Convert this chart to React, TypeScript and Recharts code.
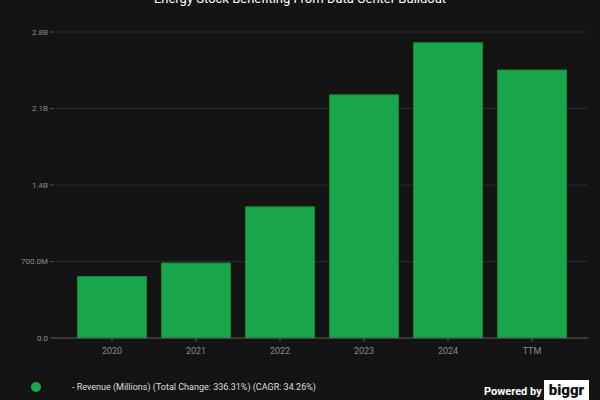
import { BarChart, Bar, XAxis, YAxis, CartesianGrid } from 'recharts';

// revenue in millions
const years = ['2020', '2021', '2022', '2023', '2024', 'TTM'];
const revenue = [562, 686, 1200, 2225, 2702, 2452];
const yTicks = [0, 700, 1400, 2100, 2800];

const data = years.map((year, i) => ({ year, revenue: revenue[i] }));

function formatMoney(v: number) {
  if (v === 0) return '0.0';
  if (v >= 1000) return `${(v / 1000).toFixed(1)}B`;
  return `${v.toFixed(1)}M`;
}

const BG = '#141414';
const GREEN = '#1aa64b';

export default function App() {
  return (
    <div
      style={{
        position: 'fixed',
        left: 0,
        top: 0,
        width: 600,
        height: 400,
        background: BG,
        overflow: 'hidden',
        fontFamily: 'Roboto, "Helvetica Neue", Arial, sans-serif',
      }}
    >
      <div
        style={{
          position: 'absolute',
          top: -9,
          left: 0,
          width: 600,
          textAlign: 'center',
          color: '#ffffff',
          fontSize: 13,
          lineHeight: '16px',
        }}
      >
        Energy Stock Benefiting From Data Center Buildout
      </div>
      <BarChart
        width={600}
        height={400}
        data={data}
        margin={{ top: 32, right: 12, bottom: 32, left: 0 }}
        barCategoryGap="9%"
      >
        <CartesianGrid vertical={false} stroke="#2a2a2a" strokeWidth={1} />
        <XAxis
          dataKey="year"
          height={30}
          padding={{ left: 17, right: 14 }}
          axisLine={{ stroke: '#555555' }}
          tickLine={{ stroke: '#555555' }}
          tickSize={4}
          tickMargin={6}
          tick={{ fill: '#8a8a8a', fontSize: 9 }}
        />
        <YAxis
          width={53}
          domain={[0, 2800]}
          ticks={yTicks}
          tickFormatter={formatMoney}
          axisLine={false}
          tickLine={{ stroke: '#555555' }}
          tickSize={3}
          tickMargin={2}
          tick={{ fill: '#8a8a8a', fontSize: 8 }}
        />
        <Bar
          dataKey="revenue"
          fill={GREEN}
          stroke="#138a3b"
          strokeWidth={1}
          isAnimationActive={false}
        />
      </BarChart>
      <div
        style={{
          position: 'absolute',
          left: 31,
          top: 382,
          width: 10,
          height: 10,
          borderRadius: 5,
          background: GREEN,
        }}
      />
      <div
        style={{
          position: 'absolute',
          left: 72,
          top: 380,
          color: '#dddddd',
          fontSize: 9,
          lineHeight: '14px',
          whiteSpace: 'nowrap',
        }}
      >
        - Revenue (Millions) (Total Change: 336.31%) (CAGR: 34.26%)
      </div>
      <div
        style={{
          position: 'absolute',
          left: 484,
          top: 385,
          color: '#ffffff',
          fontSize: 11,
          fontWeight: 700,
          lineHeight: '14px',
          whiteSpace: 'nowrap',
        }}
      >
        Powered by
      </div>
      <div
        style={{
          position: 'absolute',
          left: 544,
          top: 380,
          width: 45,
          height: 24,
          background: '#ffffff',
          color: '#111111',
          fontSize: 15,
          fontWeight: 900,
          textAlign: 'center',
          lineHeight: '21px',
        }}
      >
        biggr
      </div>
    </div>
  );
}
